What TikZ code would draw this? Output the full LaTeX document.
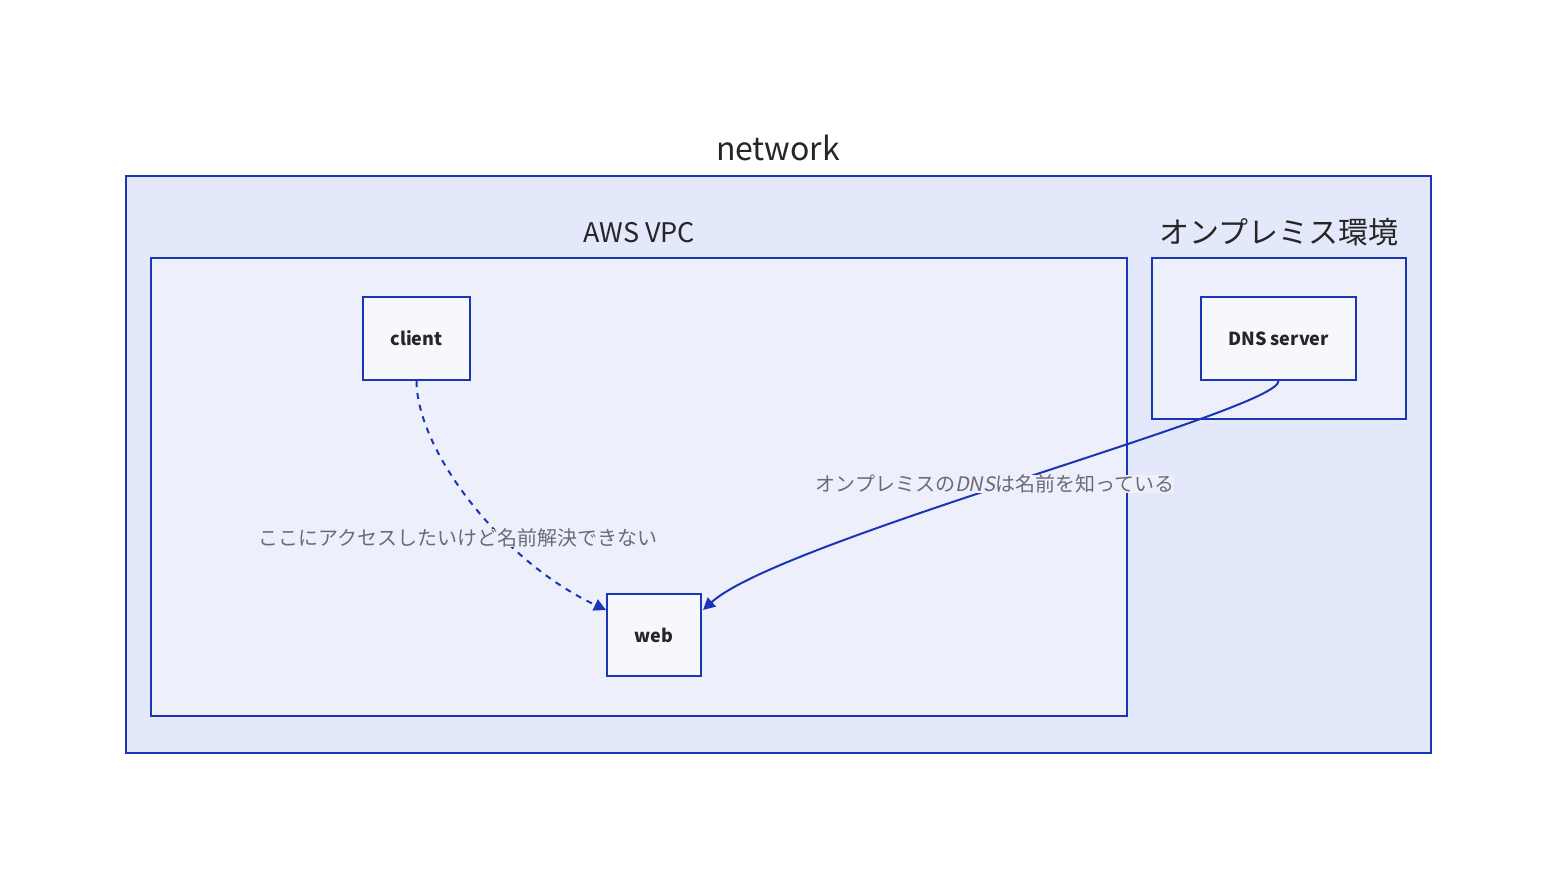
\documentclass[tikz,border=0pt]{standalone}
\usepackage{fontspec}
\setmainfont{Noto Sans CJK JP}
\newfontfamily\slantf{Noto Sans CJK JP}[FakeSlant=0.2]
\usetikzlibrary{arrows.meta}
\definecolor{bd}{HTML}{1A36B4}
\definecolor{outer}{HTML}{E3E8FA}
\definecolor{inner}{HTML}{EDF0FB}
\definecolor{nodef}{HTML}{F7F8FD}
\definecolor{lbl}{HTML}{6B6B78}
\begin{document}
\begin{tikzpicture}[x=0.5pt,y=-0.5pt,
  box/.style={draw=bd,line width=1pt},
  nd/.style={box,fill=nodef,font=\fontsize{9}{10}\selectfont\bfseries,text=black!85},
  el/.style={font=\fontsize{10}{11}\selectfont,text=lbl,fill=inner,inner sep=0pt},
  conn/.style={draw=bd,line width=1pt,-{Triangle[length=6pt,width=6pt]}}]
\useasboundingbox (0,0) rectangle (1557,880);
\draw[box,fill=outer] (126,176) rectangle (1431,753);
\node[font=\fontsize{16}{18}\selectfont,text=black!85] (nt) at (778,148) {network};
\draw[box,fill=inner] (151,258) rectangle (1127,716);
\node[font=\fontsize{13.5}{15}\selectfont,text=black!85] (vt) at (639,233) {AWS VPC};
\draw[box,fill=inner] (1152,258) rectangle (1406,419);
\node[font=\fontsize{15}{17}\selectfont,text=black!85] (ot) at (1279,232) {オンプレミス環境};
\node[nd,minimum width=53.5pt,minimum height=41.5pt] (client) at (416.5,338.5) {client};
\node[nd,minimum width=47pt,minimum height=41pt] (web) at (654,635) {web};
\node[nd,minimum width=77.5pt,minimum height=41.5pt] (dns) at (1278.5,338.5) {DNS server};
\draw[conn,dashed] (client.south) .. controls (417,450) and (500,560) .. (web.north west|-0,610);
\draw[conn] (dns.south) .. controls (1280,410) and (780,540) .. (703,610);
\node[el] (l1) at (458,538) {ここにアクセスしたいけど名前解決できない};
\node[el] (l2) at (995,484) {オンプレミスの{\slantf DNS}は名前を知っている};
\end{tikzpicture}
\end{document}
